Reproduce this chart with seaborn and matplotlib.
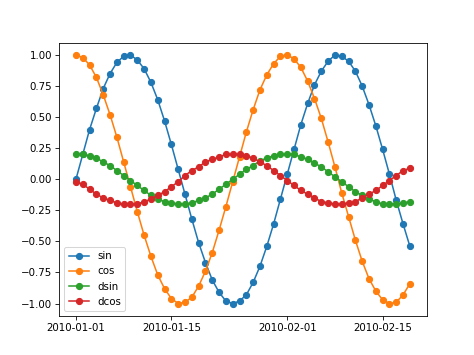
import numpy as np
import pandas as pd
import matplotlib
matplotlib.use("Agg")
import matplotlib.pyplot as plt
import matplotlib.dates as mdates
import seaborn as sns

# daily dates, 50 points starting 2010-01-01
dates = pd.date_range("2010-01-01", periods=50, freq="D")

sin_vals = [0.00, 0.20, 0.40, 0.57, 0.73, 0.85, 0.94, 0.99, 1.00, 0.96,
            0.89, 0.78, 0.64, 0.47, 0.28, 0.08, -0.12, -0.32, -0.51, -0.67,
            -0.81, -0.91, -0.98, -1.00, -0.98, -0.93, -0.83, -0.70, -0.54, -0.36,
            -0.16, 0.04, 0.24, 0.44, 0.61, 0.76, 0.87, 0.95, 1.00, 0.99,
            0.95, 0.87, 0.75, 0.60, 0.43, 0.24, 0.04, -0.17, -0.36, -0.54]
cos_vals = [1.00, 0.98, 0.92, 0.82, 0.68, 0.52, 0.34, 0.14, -0.06, -0.26,
            -0.45, -0.62, -0.77, -0.88, -0.96, -1.00, -0.99, -0.95, -0.86, -0.74,
            -0.59, -0.41, -0.22, -0.02, 0.18, 0.38, 0.56, 0.72, 0.84, 0.93,
            0.99, 1.00, 0.97, 0.90, 0.79, 0.65, 0.49, 0.30, 0.10, -0.11,
            -0.30, -0.49, -0.66, -0.80, -0.90, -0.97, -1.00, -0.99, -0.93, -0.84]
dsin_vals = [0.20, 0.20, 0.19, 0.17, 0.14, 0.11, 0.07, 0.03, -0.01, -0.05,
             -0.09, -0.13, -0.16, -0.18, -0.19, -0.20, -0.20, -0.19, -0.17, -0.15,
             -0.12, -0.08, -0.04, -0.00, 0.04, 0.08, 0.11, 0.15, 0.17, 0.19,
             0.20, 0.20, 0.20, 0.18, 0.16, 0.13, 0.10, 0.06, 0.02, -0.02,
             -0.06, -0.10, -0.13, -0.16, -0.18, -0.20, -0.20, -0.20, -0.19, -0.18]
dcos_vals = [-0.02, -0.04, -0.08, -0.12, -0.15, -0.17, -0.19, -0.20, -0.20, -0.20,
             -0.18, -0.16, -0.13, -0.10, -0.06, -0.02, 0.03, 0.07, 0.10, 0.14,
             0.16, 0.18, 0.20, 0.20, 0.20, 0.19, 0.17, 0.14, 0.11, 0.07,
             0.03, -0.01, -0.05, -0.09, -0.12, -0.15, -0.18, -0.19, -0.20, -0.20,
             -0.19, -0.18, -0.15, -0.12, -0.09, -0.05, -0.01, 0.03, 0.07, 0.09]

series = {"sin": sin_vals, "cos": cos_vals, "dsin": dsin_vals, "dcos": dcos_vals}
colors = ["#1f77b4", "#ff7f0e", "#2ca02c", "#d62728"]

fig, ax = plt.subplots(figsize=(474 / 74, 355 / 74), dpi=74)

for (name, vals), color in zip(series.items(), colors):
    sns.lineplot(x=dates, y=vals, ax=ax, label=name, color=color,
                 marker="o", markersize=6, markeredgecolor=color,
                 markeredgewidth=1, linewidth=1.5)

ax.xaxis.set_major_locator(mdates.DayLocator(bymonthday=[1, 15]))
ax.xaxis.set_major_formatter(mdates.DateFormatter("%Y-%m-%d"))
ax.set_xlabel("")
ax.set_ylabel("")
ax.legend(loc="lower left")

fig.savefig("out.png", dpi=74)
